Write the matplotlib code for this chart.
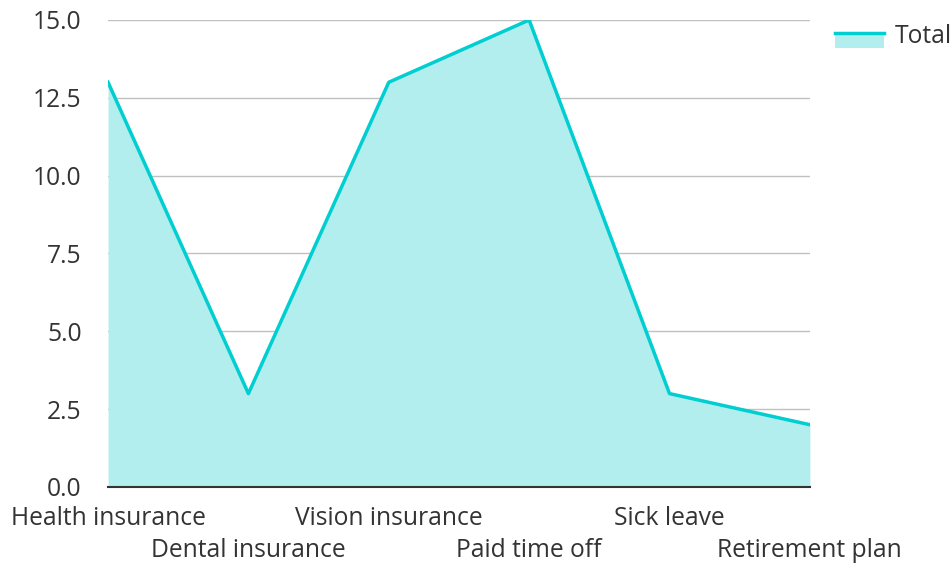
import matplotlib.pyplot as plt
import numpy as np
from matplotlib.legend_handler import HandlerBase
from matplotlib.patches import Rectangle
from matplotlib.lines import Line2D

categories = ['Health insurance', 'Dental insurance', 'Vision insurance',
              'Paid time off', 'Sick leave', 'Retirement plan']
totals = [13, 3, 13, 15, 3, 2]
yticks = [0.0, 2.5, 5.0, 7.5, 10.0, 12.5, 15.0]

line_col = '#00CED1'
fill_col = '#B2EEEE'

plt.rcParams['font.family'] = ['Open Sans', 'DejaVu Sans']


class AreaHandler(HandlerBase):
	def create_artists(self, legend, orig, xd, yd, w, h, fontsize, trans):
		r = Rectangle((xd, yd - 0.3 * h), w, 0.85 * h, facecolor=fill_col,
		              edgecolor='none', transform=trans)
		l = Line2D([xd, xd + w], [yd + 0.55 * h, yd + 0.55 * h], color=line_col,
		           lw=2.5, transform=trans)
		return [r, l]


fig = plt.figure(figsize=(9.51, 5.63), dpi=100)
ax = fig.add_axes([0.1136, 0.135, 0.738, 0.8295])

x = np.arange(len(categories))
ax.fill_between(x, totals, color=fill_col, lw=0)
ax.plot(x, totals, color=line_col, lw=2.5)

ax.set_xlim(0, len(categories) - 1)
ax.set_ylim(0, 15)
ax.set_yticks(yticks)
ax.set_yticklabels([f'{v:.1f}' for v in yticks])
ax.grid(axis='y', color='#c0c0c0', lw=1)
ax.set_axisbelow(True)

ax.set_xticks(x)
ax.set_xticklabels(categories)
for i, t in enumerate(ax.get_xticklabels()):
	if i % 2:
		t.set_y(-0.0685)

ax.tick_params(axis='both', length=0, labelsize=17.7, labelcolor='#333333')
ax.tick_params(axis='y', pad=19)
ax.tick_params(axis='x', pad=14)
for s in ['top', 'right', 'left']:
	ax.spines[s].set_visible(False)
ax.spines['bottom'].set_color('#333333')
ax.spines['bottom'].set_linewidth(1.5)

ax.legend([Line2D([], [])], ['Total'], handler_map={Line2D: AreaHandler()},
          loc='upper right', bbox_to_anchor=(1.003, 0.962),
          bbox_transform=fig.transFigure, frameon=False, borderaxespad=0,
          borderpad=0.1, fontsize=17.7, handlelength=2.0, handletextpad=0.4,
          labelcolor='#333333')

plt.savefig('out.png')
